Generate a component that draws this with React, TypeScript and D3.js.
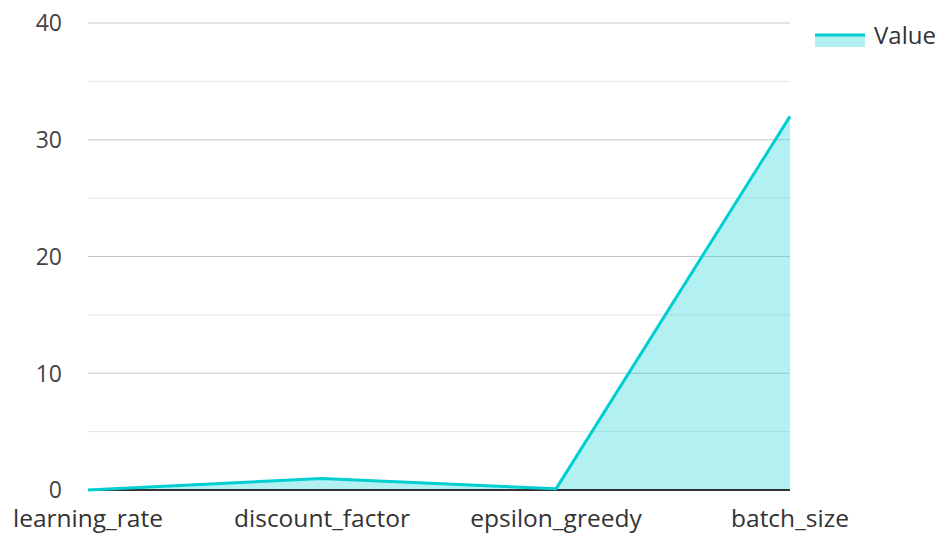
import React from "react";
import * as d3 from "d3";

const categories = ["learning_rate", "discount_factor", "epsilon_greedy", "batch_size"];
const values = [0.001, 0.99, 0.1, 32];
const majorTicks = [0, 10, 20, 30, 40];
const minorTicks = [5, 15, 25, 35];
const seriesName = "Value";

export default function App() {
  const W = 939, H = 533;
  const left = 88, right = 790, top = 23, bottom = 490;
  const x = d3.scalePoint<string>().domain(categories).range([left, right]);
  const y = d3.scaleLinear().domain([0, 40]).range([bottom, top]);
  const data = categories.map((c, i) => ({ c, v: values[i] }));
  const line = d3.line<{ c: string; v: number }>().x(d => x(d.c)!).y(d => y(d.v));
  const area = d3.area<{ c: string; v: number }>().x(d => x(d.c)!).y0(y(0)).y1(d => y(d.v));
  const color = "#00CED1";
  const font = "'Open Sans', 'Noto Sans', sans-serif";
  return (
    <svg width={W} height={H} style={{ position: "absolute", left: 0, top: 0, fontFamily: font }}>
      <rect width={W} height={H} fill="#fff" />
      {minorTicks.map(t => (
        <line key={"m" + t} x1={left} x2={right} y1={y(t)} y2={y(t)} stroke="#e6e6e6" strokeWidth={1} />
      ))}
      {majorTicks.map(t => (
        <line key={"M" + t} x1={left} x2={right} y1={y(t)} y2={y(t)} stroke="#c6c6c6" strokeWidth={1} />
      ))}
      {majorTicks.map(t => (
        <text key={"l" + t} x={62} y={y(t)} dy="0.36em" textAnchor="end" fontSize={23} fill="#444">{t}</text>
      ))}
      <path d={area(data)!} fill={color} fillOpacity={0.3} />
      <line x1={left} x2={right} y1={bottom} y2={bottom} stroke="#333" strokeWidth={2} />
      <path d={line(data)!} fill="none" stroke={color} strokeWidth={3} strokeLinejoin="round" />
      {categories.map(c => (
        <text key={c} x={x(c)} y={527} textAnchor="middle" fontSize={24.5} fill="#333">{c}</text>
      ))}
      <rect x={815} y={35} width={50} height={12} fill={color} fillOpacity={0.3} />
      <line x1={815} x2={865} y1={35} y2={35} stroke={color} strokeWidth={3} />
      <text x={874} y={44} fontSize={24} fill="#333">{seriesName}</text>
    </svg>
  );
}
